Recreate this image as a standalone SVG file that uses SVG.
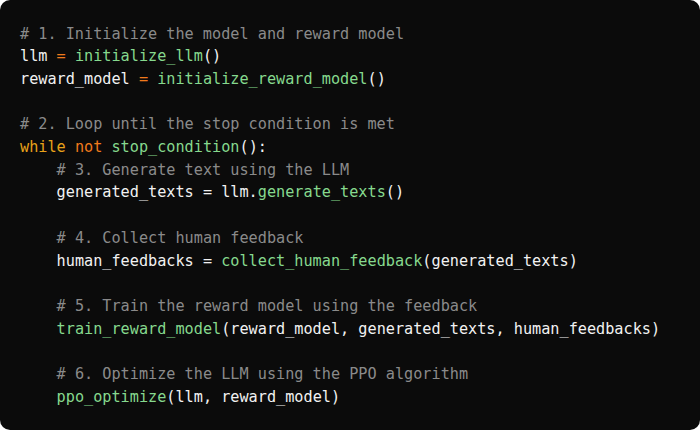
<svg xmlns="http://www.w3.org/2000/svg" width="700" height="430" viewBox="0 0 700 430">
<style>
text{font-family:"DejaVu Sans Mono","Liberation Mono",monospace;font-size:15.2px;fill:#f2f2f2;white-space:pre}
.c{fill:#8a8a8a}.o{fill:#f07a1c}.g{fill:#86d98e}.y{fill:#e9a21a}
</style>
<rect x="0" y="0" width="700" height="430" rx="10" fill="#0b0b0b"/>
<g xml:space="preserve">
<text x="20" y="38.5" class="c"># 1. Initialize the model and reward model</text>
<text x="20" y="61.2">llm <tspan class="o">=</tspan> <tspan class="g">initialize_llm</tspan>()</text>
<text x="20" y="83.9">reward_model <tspan class="o">=</tspan> <tspan class="g">initialize_reward_model</tspan>()</text>
<text x="20" y="129.3" class="c"># 2. Loop until the stop condition is met</text>
<text x="20" y="152"><tspan class="y">while</tspan> <tspan class="o">not</tspan> <tspan class="g">stop_condition</tspan>():</text>
<text x="56.6" y="174.7" class="c"># 3. Generate text using the LLM</text>
<text x="56.6" y="197.4">generated_texts = llm.<tspan class="g">generate_texts</tspan>()</text>
<text x="56.6" y="242.8" class="c"># 4. Collect human feedback</text>
<text x="56.6" y="265.5">human_feedbacks = <tspan class="g">collect_human_feedback</tspan>(generated_texts)</text>
<text x="56.6" y="310.9" class="c"># 5. Train the reward model using the feedback</text>
<text x="56.6" y="333.6"><tspan class="g">train_reward_model</tspan>(reward_model, generated_texts, human_feedbacks)</text>
<text x="56.6" y="379" class="c"># 6. Optimize the LLM using the PPO algorithm</text>
<text x="56.6" y="401.7"><tspan class="g">ppo_optimize</tspan>(llm, reward_model)</text>
</g>
</svg>
